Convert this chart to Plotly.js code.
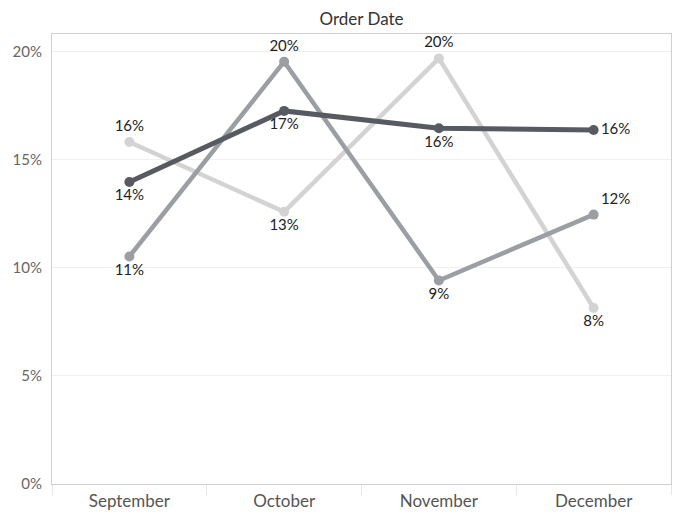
<!DOCTYPE html>
<html>
<head>
<meta charset="utf-8">
<script src="https://cdn.plot.ly/plotly-3.0.1.min.js"></script>
<style>
  body { margin: 0; background: #fff; }
  #chart { width: 700px; height: 531px; }
</style>
</head>
<body>
<div id="chart"></div>
<script>
// months on the x axis
const months = ['September', 'October', 'November', 'December'];

// share of orders per month, one array per series
const darkVals = [0.1398, 0.1727, 0.1647, 0.1639];
const midVals = [0.1053, 0.1955, 0.0942, 0.1247];
const lightVals = [0.1583, 0.1260, 0.1970, 0.0815];

const darkPos = ['bottom center', 'bottom center', 'bottom center', 'middle right'];
const midPos = ['bottom center', 'top center', 'bottom center', 'top right'];
const lightPos = ['top center', 'bottom center', 'top center', 'bottom center'];

const FONT = 'Lato, "Open Sans", sans-serif';

function series(vals, color, width, pos) {
  return {
    x: months,
    y: vals,
    type: 'scatter',
    mode: 'lines+markers+text',
    line: {color: color, width: width},
    marker: {color: color, size: 10},
    texttemplate: '%{y:.0%}',
    textposition: pos,
    textfont: {family: FONT, size: 15, color: '#222'},
    hoverinfo: 'skip',
    cliponaxis: false
  };
}

const data = [
  series(lightVals, '#d3d3d3', 4.5, lightPos),
  series(midVals, '#9b9ea3', 4.5, midPos),
  series(darkVals, '#575b61', 5, darkPos)
];

const layout = {
  width: 700,
  height: 531,
  margin: {l: 52, r: 29, t: 34, b: 47},
  paper_bgcolor: '#fff',
  plot_bgcolor: '#fff',
  showlegend: false,
  font: {family: FONT, color: '#555'},
  title: {
    text: 'Order Date',
    font: {family: FONT, size: 17, color: '#333'},
    x: 0.5, xref: 'paper',
    y: 1 - 19 / 531, yref: 'container', yanchor: 'middle'
  },
  xaxis: {
    type: 'category',
    range: [-0.5, 3.5],
    tickson: 'boundaries',
    ticks: 'outside',
    ticklen: 10,
    tickcolor: '#e6e6e6',
    showgrid: false,
    showline: true,
    mirror: true,
    linecolor: '#d0d0d0',
    tickfont: {family: FONT, size: 17, color: '#555'},
    ticklabelstandoff: 2,
    zeroline: false
  },
  yaxis: {
    range: [0, 0.2083],
    dtick: 0.05,
    tickformat: '.0%',
    showgrid: true,
    gridcolor: '#f0f0f0',
    showline: true,
    mirror: true,
    linecolor: '#d0d0d0',
    zeroline: false,
    ticks: '',
    ticklabelstandoff: 6,
    tickfont: {family: FONT, size: 15, color: '#666'}
  }
};

Plotly.newPlot('chart', data, layout, {displayModeBar: false, staticPlot: true});
</script>
</body>
</html>
